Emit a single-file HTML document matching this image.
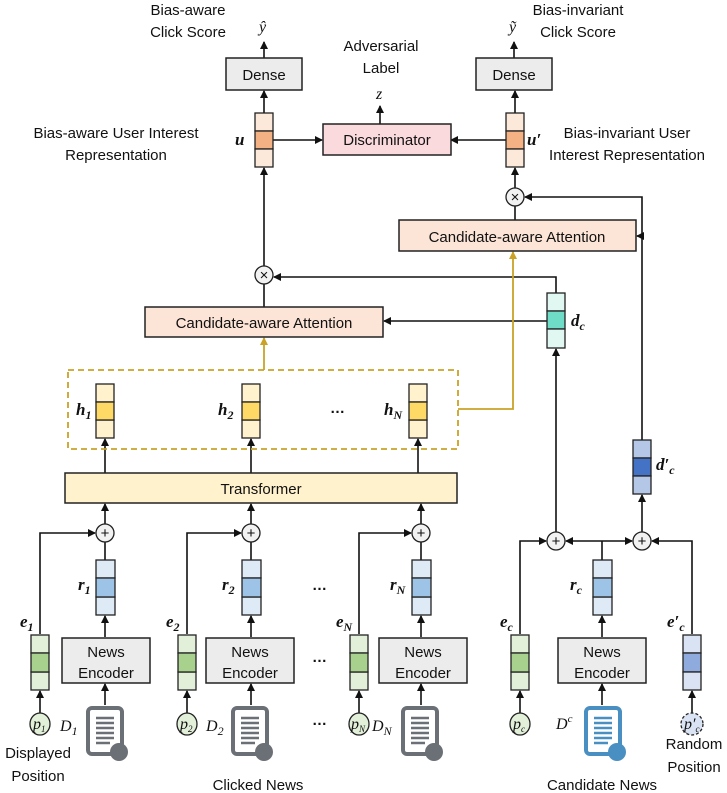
<!DOCTYPE html><html><head><style>body{margin:0;background:#fff}svg{display:block}text{font-family:"Liberation Sans",sans-serif;font-size:15px;fill:#111}.m{font-family:"Liberation Serif",serif;font-style:italic;font-weight:bold;font-size:17px}.mi{font-family:"Liberation Serif",serif;font-style:italic;font-size:16px}</style></head><body>
<svg width="727" height="793" viewBox="0 0 727 793" xmlns="http://www.w3.org/2000/svg">
<defs><marker id="a" markerWidth="8" markerHeight="8" refX="7" refY="4" orient="auto" markerUnits="userSpaceOnUse"><path d="M0,0 L8,4 L0,8 z" fill="#111"/></marker>
<marker id="g" markerWidth="8" markerHeight="8" refX="7" refY="4" orient="auto" markerUnits="userSpaceOnUse"><path d="M0,0 L8,4 L0,8 z" fill="#c9a227"/></marker>
<g id="doc"><rect x="2" y="2" width="34" height="46" rx="4" fill="#fff" stroke="currentColor" stroke-width="4"/><g stroke="currentColor" stroke-width="2.5"><line x1="10" y1="12" x2="28" y2="12"/><line x1="10" y1="17" x2="28" y2="17"/><line x1="10" y1="22" x2="28" y2="22"/><line x1="10" y1="27" x2="28" y2="27"/><line x1="10" y1="32" x2="28" y2="32"/><line x1="10" y1="37" x2="24" y2="37"/></g><circle cx="33" cy="46" r="9" fill="currentColor"/></g></defs>
<g stroke="#111" stroke-width="1.6" fill="none">
<!-- top -->
<line x1="264" y1="58" x2="264" y2="42" marker-end="url(#a)"/>
<line x1="514" y1="58" x2="514" y2="42" marker-end="url(#a)"/>
<line x1="264" y1="113" x2="264" y2="91" marker-end="url(#a)"/>
<line x1="515" y1="113" x2="515" y2="91" marker-end="url(#a)"/>
<line x1="380" y1="124" x2="380" y2="106" marker-end="url(#a)"/>
<line x1="273" y1="140" x2="322" y2="140" marker-end="url(#a)"/>
<line x1="506" y1="140" x2="451" y2="140" marker-end="url(#a)"/>
<line x1="264" y1="266" x2="264" y2="168" marker-end="url(#a)"/>
<line x1="515" y1="188" x2="515" y2="168" marker-end="url(#a)"/>
<line x1="515" y1="220" x2="515" y2="206"/>
<line x1="264" y1="308" x2="264" y2="284"/>
<polyline points="642,440 642,197 525,197" marker-end="url(#a)"/>
<line x1="642" y1="236" x2="637" y2="236" marker-end="url(#a)"/>
<polyline points="556,293 556,277 274,277" marker-end="url(#a)"/>
<line x1="547" y1="321" x2="384" y2="321" marker-end="url(#a)"/>
<line x1="556" y1="532" x2="556" y2="349" marker-end="url(#a)"/>
<line x1="642" y1="532" x2="642" y2="495" marker-end="url(#a)"/>
<!-- transformer arrows -->
<line x1="105" y1="473" x2="105" y2="439" marker-end="url(#a)"/>
<line x1="251" y1="473" x2="251" y2="439" marker-end="url(#a)"/>
<line x1="418" y1="473" x2="418" y2="439" marker-end="url(#a)"/>
<line x1="105" y1="524" x2="105" y2="504" marker-end="url(#a)"/>
<line x1="251" y1="524" x2="251" y2="504" marker-end="url(#a)"/>
<line x1="421" y1="524" x2="421" y2="504" marker-end="url(#a)"/>
<line x1="105" y1="560" x2="105" y2="542"/>
<line x1="251" y1="560" x2="251" y2="542"/>
<line x1="421" y1="560" x2="421" y2="542"/>
<polyline points="40,634 40,533 95,533" marker-end="url(#a)"/>
<polyline points="187,634 187,533 241,533" marker-end="url(#a)"/>
<polyline points="359,634 359,533 411,533" marker-end="url(#a)"/>
<line x1="105" y1="637" x2="105" y2="616" marker-end="url(#a)"/>
<line x1="251" y1="637" x2="251" y2="616" marker-end="url(#a)"/>
<line x1="421" y1="637" x2="421" y2="616" marker-end="url(#a)"/>
<line x1="602" y1="637" x2="602" y2="616" marker-end="url(#a)"/>
<line x1="105" y1="705" x2="105" y2="684" marker-end="url(#a)"/>
<line x1="251" y1="705" x2="251" y2="684" marker-end="url(#a)"/>
<line x1="421" y1="705" x2="421" y2="684" marker-end="url(#a)"/>
<line x1="602" y1="705" x2="602" y2="684" marker-end="url(#a)"/>
<line x1="40" y1="713" x2="40" y2="691" marker-end="url(#a)"/>
<line x1="187" y1="713" x2="187" y2="691" marker-end="url(#a)"/>
<line x1="359" y1="713" x2="359" y2="691" marker-end="url(#a)"/>
<line x1="520" y1="713" x2="520" y2="691" marker-end="url(#a)"/>
<line x1="692" y1="713" x2="692" y2="691" marker-end="url(#a)"/>
<!-- candidate buses -->
<polyline points="520,634 520,541 546,541" marker-end="url(#a)"/>
<polyline points="692,634 692,541 652,541" marker-end="url(#a)"/>
<line x1="602" y1="560" x2="602" y2="541"/>
<line x1="602" y1="541" x2="566" y2="541" marker-end="url(#a)"/>
<line x1="602" y1="541" x2="632" y2="541" marker-end="url(#a)"/>
</g>
<!-- gold -->
<g stroke="#c9a227" stroke-width="1.8" fill="none">
<rect x="68" y="370" width="390" height="79" stroke-dasharray="6,4"/>
<line x1="264" y1="370" x2="264" y2="338" marker-end="url(#g)"/>
<polyline points="458,409 513,409 513,252" marker-end="url(#g)"/>
</g>
<!-- boxes -->
<g stroke="#222" stroke-width="1.5">
<rect x="226" y="58" width="76" height="32" fill="#ececec"/>
<rect x="476" y="58" width="76" height="32" fill="#ececec"/>
<rect x="323" y="124" width="128" height="31" fill="#fadadd"/>
<rect x="399" y="220" width="237" height="31" fill="#fce4d6"/>
<rect x="145" y="307" width="238" height="30" fill="#fce4d6"/>
<rect x="65" y="473" width="392" height="30" fill="#fff2cc"/>
<rect x="62" y="638" width="88" height="45" fill="#ececec"/>
<rect x="206" y="638" width="88" height="45" fill="#ececec"/>
<rect x="379" y="638" width="88" height="45" fill="#ececec"/>
<rect x="558" y="638" width="88" height="45" fill="#ececec"/>
</g>
<g font-size="15">
<text x="264" y="80" text-anchor="middle">Dense</text>
<text x="514" y="80" text-anchor="middle">Dense</text>
<text x="387" y="145" text-anchor="middle">Discriminator</text>
<text x="517" y="242" text-anchor="middle">Candidate-aware Attention</text>
<text x="264" y="328" text-anchor="middle">Candidate-aware Attention</text>
<text x="261" y="494" text-anchor="middle">Transformer</text>
<g text-anchor="middle"><text x="106" y="657">News</text><text x="106" y="678">Encoder</text>
<text x="250" y="657">News</text><text x="250" y="678">Encoder</text>
<text x="423" y="657">News</text><text x="423" y="678">Encoder</text>
<text x="602" y="657">News</text><text x="602" y="678">Encoder</text></g>
<text x="188" y="15" text-anchor="middle">Bias-aware</text>
<text x="188" y="37" text-anchor="middle">Click Score</text>
<text x="578" y="15" text-anchor="middle">Bias-invariant</text>
<text x="578" y="37" text-anchor="middle">Click Score</text>
<text x="381" y="51" text-anchor="middle">Adversarial</text>
<text x="381" y="73" text-anchor="middle">Label</text>
<text x="116" y="138" text-anchor="middle">Bias-aware User Interest</text>
<text x="116" y="160" text-anchor="middle">Representation</text>
<text x="627" y="138" text-anchor="middle">Bias-invariant User</text>
<text x="627" y="160" text-anchor="middle">Interest Representation</text>
<text x="38" y="758" text-anchor="middle">Displayed</text>
<text x="38" y="781" text-anchor="middle">Position</text>
<text x="694" y="749" text-anchor="middle">Random</text>
<text x="694" y="772" text-anchor="middle">Position</text>
<text x="258" y="790" text-anchor="middle" font-size="17">Clicked News</text>
<text x="602" y="790" text-anchor="middle" font-size="17">Candidate News</text>
</g>
<!-- math -->
<text class="mi" x="259" y="32" style="font-weight:normal">ŷ</text>
<text class="mi" x="509" y="32" style="font-weight:normal">ỹ</text>
<text class="mi" x="376" y="99" style="font-weight:normal">z</text>
<text class="m" x="235" y="145">u</text>
<text class="m" x="527" y="145">u′</text>
<text class="m" x="571" y="326">d<tspan font-size="12" dy="4">c</tspan></text>
<text class="m" x="656" y="470">d′<tspan font-size="12" dy="4">c</tspan></text>
<text class="m" x="76" y="415">h<tspan font-size="12" dy="4">1</tspan></text>
<text class="m" x="218" y="415">h<tspan font-size="12" dy="4">2</tspan></text>
<text class="m" x="384" y="415">h<tspan font-size="12" dy="4">N</tspan></text>
<text x="330" y="413" font-weight="bold">…</text>
<text class="m" x="78" y="590">r<tspan font-size="12" dy="4">1</tspan></text>
<text class="m" x="222" y="590">r<tspan font-size="12" dy="4">2</tspan></text>
<text class="m" x="390" y="590">r<tspan font-size="12" dy="4">N</tspan></text>
<text class="m" x="570" y="590">r<tspan font-size="12" dy="4">c</tspan></text>
<text x="312" y="590" font-weight="bold">…</text>
<text x="312" y="662" font-weight="bold">…</text>
<text x="312" y="725" font-weight="bold">…</text>
<text class="m" x="20" y="627">e<tspan font-size="12" dy="4">1</tspan></text>
<text class="m" x="166" y="627">e<tspan font-size="12" dy="4">2</tspan></text>
<text class="m" x="336" y="627">e<tspan font-size="12" dy="4">N</tspan></text>
<text class="m" x="500" y="627">e<tspan font-size="12" dy="4">c</tspan></text>
<text class="m" x="667" y="627">e′<tspan font-size="12" dy="4">c</tspan></text>
<text class="mi" x="60" y="731">D<tspan font-size="12" dy="4">1</tspan></text>
<text class="mi" x="206" y="731">D<tspan font-size="12" dy="4">2</tspan></text>
<text class="mi" x="372" y="731">D<tspan font-size="12" dy="4">N</tspan></text>
<text class="mi" x="556" y="729">D<tspan font-size="11" dy="-7">c</tspan></text>
<!-- vectors -->
<g stroke="#222" stroke-width="1.3">
<g id="vu"><rect x="255" y="113" width="18" height="18" fill="#fde9d9"/><rect x="255" y="131" width="18" height="18" fill="#f4b183"/><rect x="255" y="149" width="18" height="18" fill="#fde9d9"/></g>
<rect x="506" y="113" width="18" height="18" fill="#fde9d9"/><rect x="506" y="131" width="18" height="18" fill="#f4b183"/><rect x="506" y="149" width="18" height="18" fill="#fde9d9"/>
<rect x="547" y="293" width="18" height="18" fill="#e0f7f2"/><rect x="547" y="311" width="18" height="18" fill="#6fdcc8"/><rect x="547" y="329" width="18" height="19" fill="#e0f7f2"/>
<rect x="633" y="440" width="18" height="18" fill="#b4c7e7"/><rect x="633" y="458" width="18" height="18" fill="#4472c4"/><rect x="633" y="476" width="18" height="18" fill="#b4c7e7"/>
<g fill="#fff2cc"><rect x="96" y="384" width="18" height="18"/><rect x="242" y="384" width="18" height="18"/><rect x="409" y="384" width="18" height="18"/><rect x="96" y="420" width="18" height="18"/><rect x="242" y="420" width="18" height="18"/><rect x="409" y="420" width="18" height="18"/></g>
<g fill="#ffd966"><rect x="96" y="402" width="18" height="18"/><rect x="242" y="402" width="18" height="18"/><rect x="409" y="402" width="18" height="18"/></g>
<g fill="#deebf7"><rect x="96" y="560" width="19" height="18"/><rect x="242" y="560" width="19" height="18"/><rect x="412" y="560" width="19" height="18"/><rect x="593" y="560" width="19" height="18"/><rect x="96" y="597" width="19" height="18"/><rect x="242" y="597" width="19" height="18"/><rect x="412" y="597" width="19" height="18"/><rect x="593" y="597" width="19" height="18"/></g>
<g fill="#9dc3e6"><rect x="96" y="578" width="19" height="19"/><rect x="242" y="578" width="19" height="19"/><rect x="412" y="578" width="19" height="19"/><rect x="593" y="578" width="19" height="19"/></g>
<g fill="#e2f0d9"><rect x="31" y="635" width="18" height="18"/><rect x="178" y="635" width="18" height="18"/><rect x="350" y="635" width="18" height="18"/><rect x="511" y="635" width="18" height="18"/><rect x="31" y="672" width="18" height="18"/><rect x="178" y="672" width="18" height="18"/><rect x="350" y="672" width="18" height="18"/><rect x="511" y="672" width="18" height="18"/></g>
<g fill="#a9d18e"><rect x="31" y="653" width="18" height="19"/><rect x="178" y="653" width="18" height="19"/><rect x="350" y="653" width="18" height="19"/><rect x="511" y="653" width="18" height="19"/></g>
<rect x="683" y="635" width="18" height="18" fill="#dae3f3"/><rect x="683" y="653" width="18" height="19" fill="#8faadc"/><rect x="683" y="672" width="18" height="18" fill="#dae3f3"/>
</g>
<!-- ops -->
<g stroke="#222" stroke-width="1.3" fill="#f2f2f2">
<circle cx="515" cy="197" r="9"/><circle cx="264" cy="275" r="9"/>
<circle cx="105" cy="533" r="9"/><circle cx="251" cy="533" r="9"/><circle cx="421" cy="533" r="9"/><circle cx="556" cy="541" r="9"/><circle cx="642" cy="541" r="9"/>
</g>
<g font-size="13" text-anchor="middle"><text x="515" y="202">×</text><text x="264" y="280">×</text>
<text x="105" y="538">+</text><text x="251" y="538">+</text><text x="421" y="538">+</text><text x="556" y="546">+</text><text x="642" y="546">+</text></g>
<!-- p circles -->
<g stroke="#222" stroke-width="1.3" fill="#e2f0d9">
<ellipse cx="40" cy="724" rx="10" ry="11"/><ellipse cx="187" cy="724" rx="10" ry="11"/><ellipse cx="359" cy="724" rx="10" ry="11"/><ellipse cx="520" cy="724" rx="10" ry="11"/>
<ellipse cx="692" cy="724" rx="11" ry="11" fill="#dae3f3" stroke-dasharray="3,2"/></g>
<g class="mi" font-size="13"><text x="33" y="729" class="mi" font-size="13">p<tspan font-size="9" dy="3">1</tspan></text><text x="180" y="729" class="mi" font-size="13">p<tspan font-size="9" dy="3">2</tspan></text><text x="351" y="729" class="mi" font-size="13">p<tspan font-size="9" dy="3">N</tspan></text><text x="513" y="729" class="mi" font-size="13">p<tspan font-size="9" dy="3">c</tspan></text><text x="684" y="729" class="mi" font-size="13">p′<tspan font-size="9" dy="3">c</tspan></text></g>
<use href="#doc" x="86" y="706" color="#6b6f76"/>
<use href="#doc" x="231" y="706" color="#6b6f76"/>
<use href="#doc" x="401" y="706" color="#6b6f76"/>
<use href="#doc" x="584" y="706" color="#4a8fc2"/>
</svg></body></html>
